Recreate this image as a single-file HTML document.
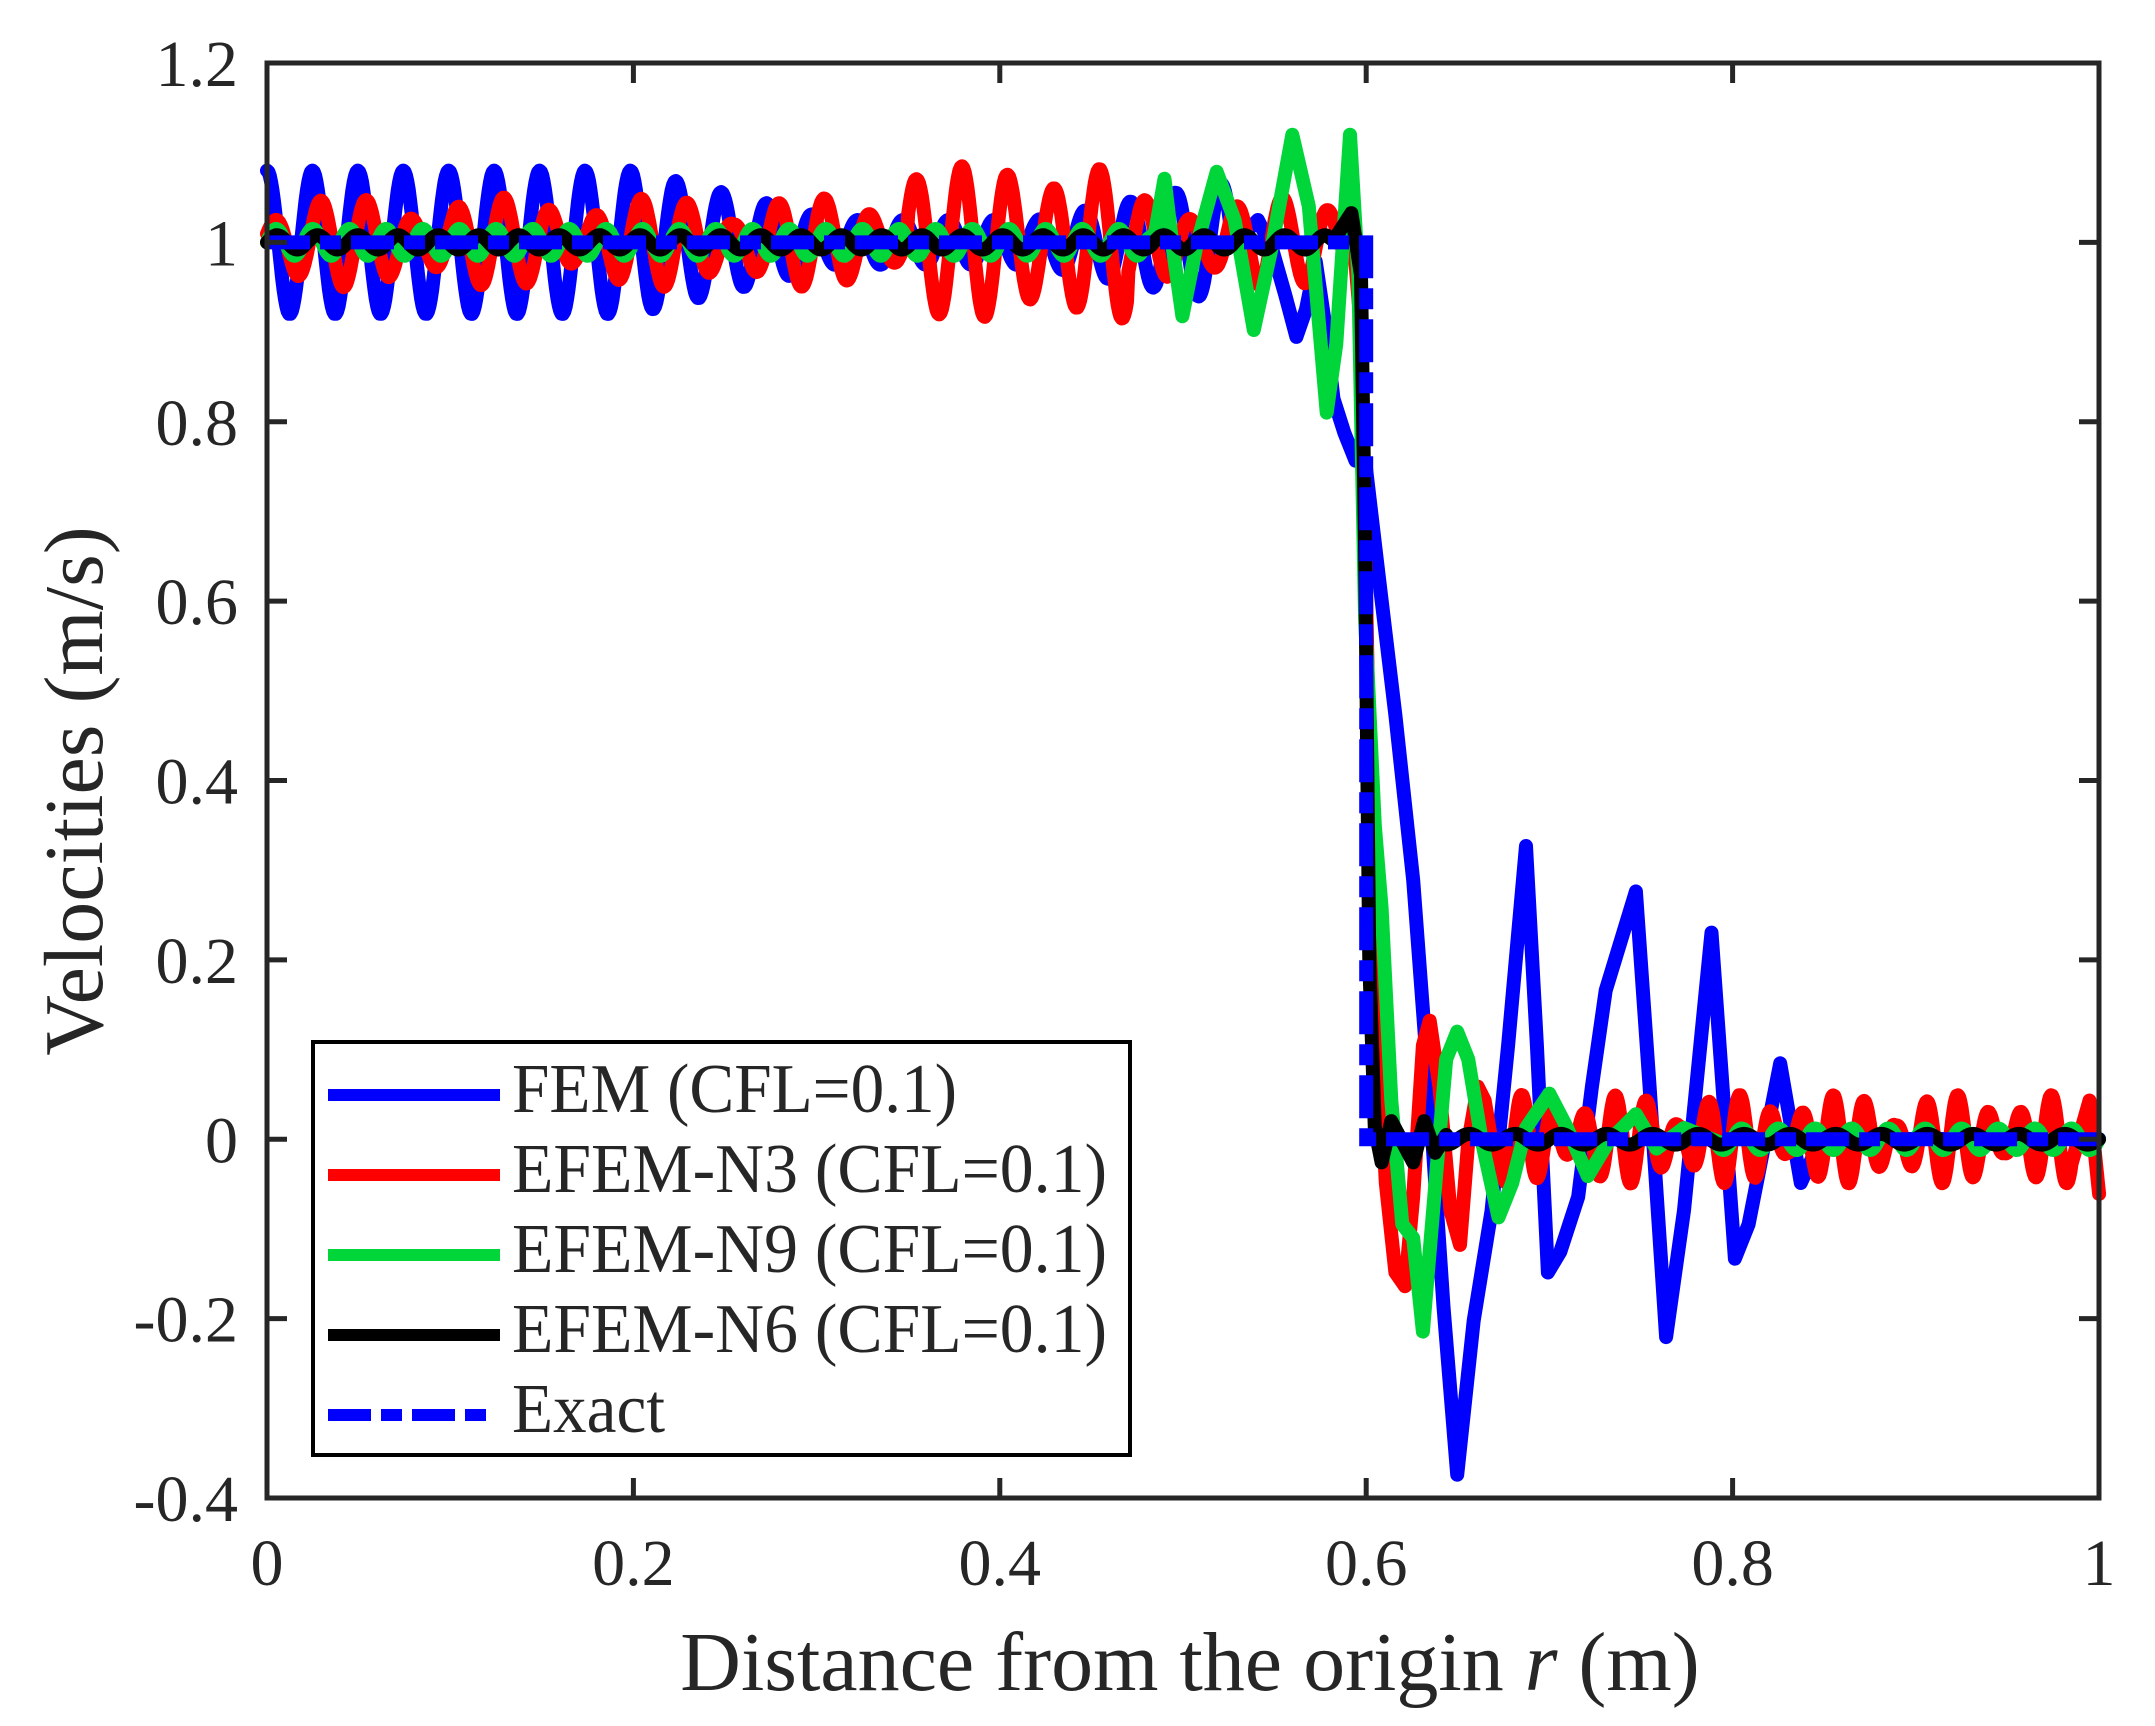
<!DOCTYPE html>
<html><head><meta charset="utf-8"><style>
html,body{margin:0;padding:0;background:#fff;}
svg{display:block;}
text{font-family:"Liberation Serif",serif;fill:#262626;}
</style></head><body>
<svg id="s" width="2155" height="1726" viewBox="0 0 2155 1726" xmlns="http://www.w3.org/2000/svg">
<rect x="0" y="0" width="2155" height="1726" fill="#fff"/>
<g id="curves" fill="none" stroke-linejoin="round" stroke-linecap="round"></g>
<g id="axes" stroke="#262626" stroke-width="5" fill="none"></g>
<g id="ticklabels" font-size="66"></g>
<text x="1190" y="1690" font-size="84" text-anchor="middle">Distance from the origin <tspan font-style="italic">r</tspan> (m)</text>
<text transform="translate(102,791) rotate(-90)" font-size="84" text-anchor="middle">Velocities (m/s)</text>
<g id="legend">
<rect x="313" y="1042" width="817" height="413" fill="#fff" stroke="#000" stroke-width="4"/>
<line x1="328" y1="1095" x2="500" y2="1095" stroke="#0000ff" stroke-width="12"/>
<line x1="328" y1="1175" x2="500" y2="1175" stroke="#ff0000" stroke-width="12"/>
<line x1="328" y1="1255" x2="500" y2="1255" stroke="#00d639" stroke-width="12"/>
<line x1="328" y1="1335" x2="500" y2="1335" stroke="#000000" stroke-width="12"/>
<line x1="328" y1="1415" x2="492" y2="1415" stroke="#0000ff" stroke-width="12" stroke-dasharray="43 10 21 10"/>
<text x="512" y="1112" font-size="70" fill="#000" textLength="445" lengthAdjust="spacingAndGlyphs">FEM (CFL=0.1)</text>
<text x="512" y="1192" font-size="70" fill="#000" textLength="595" lengthAdjust="spacingAndGlyphs">EFEM-N3 (CFL=0.1)</text>
<text x="512" y="1272" font-size="70" fill="#000" textLength="595" lengthAdjust="spacingAndGlyphs">EFEM-N9 (CFL=0.1)</text>
<text x="512" y="1352" font-size="70" fill="#000" textLength="595" lengthAdjust="spacingAndGlyphs">EFEM-N6 (CFL=0.1)</text>
<text x="512" y="1432" font-size="70" fill="#000" textLength="153" lengthAdjust="spacingAndGlyphs">Exact</text>
</g>
</svg>
<script>
(function(){
var NS="http://www.w3.org/2000/svg";
var L=267,R=2099,T=63,B=1498;
function X(x){return L+x*(R-L);}
function Y(v){return B-(v+0.4)*(B-T)/1.6;}
function PX(px){return L+(px-194)*1.3744;}
function PY(py){return 1139-(828-py)*1.3758;}
function el(t,a,p){var e=document.createElementNS(NS,t);for(var k in a)e.setAttribute(k,a[k]);p.appendChild(e);return e;}
var cg=document.getElementById('curves');
function path(pts,col,w,dash){
 var d="";for(var i=0;i<pts.length;i++){d+=(i?"L":"M")+pts[i][0].toFixed(1)+","+pts[i][1].toFixed(1);}
 var a={d:d,stroke:col,"stroke-width":w};if(dash){a["stroke-dasharray"]=dash;a["stroke-linecap"]="butt";a["stroke-linejoin"]="miter";}
 el('path',a,cg);
}
function gen(f,x0,x1,n){var p=[];for(var i=0;i<=n;i++){var x=x0+(x1-x0)*i/n;p.push([X(x),Y(f(x))]);}return p;}
function exp(arr){return arr.map(function(q){return [PX(q[0]),PY(q[1])];});}
function prx(px){return (px-194)/1333;}
var W=14;
var femA=function(x){if(x<0.2)return 0.08;if(x<0.3)return 0.08-(x-0.2)*0.5;if(x<0.42)return 0.025;return 0.025+(x-0.42)*0.4;};
var fem=gen(function(x){return 1+femA(x)*Math.cos(2*Math.PI*x/0.0248);},0,prx(895),700);
fem=fem.concat(exp([[900,175],[915,160],[925,180],[935,215],[943,245],[950,225],[957,190],[963,230],[970,290],[978,315],[986,335],[993,335],[1003,420],[1015,520],[1028,640],[1040,800],[1050,950],[1060,1072],[1072,960],[1085,880],[1097,760],[1110,615],[1118,760],[1126,925],[1135,910],[1148,870],[1158,790],[1168,720],[1190,648],[1200,790],[1212,972],[1225,880],[1245,678],[1262,915],[1272,890],[1295,773],[1310,860],[1320,838],[1340,828],[1527,828]]));
path(fem,"#0000ff",W);
var red=gen(function(x){var a=0.02+0.03*Math.abs(Math.sin(x*37))+(x>0.35&&x<0.47?0.035:0);return 1+a*Math.sin(2*Math.PI*x/0.025+0.5);},0,prx(975),800);
red=red.concat(exp([[980,160],[985,180],[990,240],[995,500],[1000,700],[1008,860],[1015,925],[1022,935],[1028,870],[1035,760],[1040,742],[1047,790],[1055,880],[1062,905],[1068,830],[1075,790],[1080,800],[1085,830],[1090,845]]));
red=red.concat(gen(function(x){var a=0.015+0.035*Math.abs(Math.sin(x*53));return a*Math.sin(2*Math.PI*(x-prx(1090))/0.017+Math.PI);},prx(1090),0.985,500));
red=red.concat(exp([[1520,800],[1527,868]]));
path(red,"#ff0000",W);
var gr=gen(function(x){return 1+0.015*Math.sin(2*Math.PI*x/0.02);},0,prx(835),600);
gr=gr.concat(exp([[840,170],[847,130],[853,180],[860,230],[870,180],[885,125],[898,160],[912,240],[925,180],[940,98],[952,150],[965,300],[972,250],[982,98],[988,200],[993,450],[1000,600],[1005,660],[1012,800],[1020,890],[1028,900],[1035,968],[1045,850],[1052,770],[1060,750],[1068,770],[1078,830],[1090,885],[1100,860],[1110,820],[1127,795],[1140,820],[1155,855],[1170,830],[1190,810],[1205,835],[1225,820],[1250,830]]));
gr=gr.concat(gen(function(x){return 0.012*Math.sin(2*Math.PI*x/0.02);},prx(1250),1,300));
path(gr,"#00d639",W);
var bk=gen(function(x){return 1+0.008*Math.sin(2*Math.PI*x/0.022);},0,prx(965),600);
bk=bk.concat(exp([[970,175],[983,155],[990,200],[993,400],[996,700],[1000,820],[1005,845],[1012,815],[1020,830],[1028,845],[1036,815],[1044,838],[1052,825]]));
bk=bk.concat(gen(function(x){return 0.006*Math.sin(2*Math.PI*x/0.025);},prx(1052),1,300));
path(bk,"#000000",W);
path([[X(0),Y(1)],[X(0.6),Y(1)],[X(0.6),Y(0)],[X(1),Y(0)]],"#0000ff",14,"43 10 21 10");
var ag=document.getElementById('axes');
el('rect',{x:L,y:T,width:R-L,height:B-T},ag);
var tl=document.getElementById('ticklabels');
for(var i=0;i<=5;i++){var x=X(i*0.2);
 el('line',{x1:x,y1:B,x2:x,y2:B-20},ag);el('line',{x1:x,y1:T,x2:x,y2:T+20},ag);
 var t=el('text',{x:x,y:1585,"text-anchor":"middle"},tl);t.textContent=(i==0?"0":i==5?"1":(i*0.2).toFixed(1));}
for(var j=0;j<=8;j++){var v=-0.4+j*0.2;var y=Y(v);
 el('line',{x1:L,y1:y,x2:L+20,y2:y},ag);el('line',{x1:R,y1:y,x2:R-20,y2:y},ag);
 var s=Math.abs(v)<1e-9?"0":(Math.abs(v-1)<1e-9?"1":v.toFixed(1));
 var t2=el('text',{x:238,y:y+23,"text-anchor":"end"},tl);t2.textContent=s;}
})();
</script>
</body></html>
